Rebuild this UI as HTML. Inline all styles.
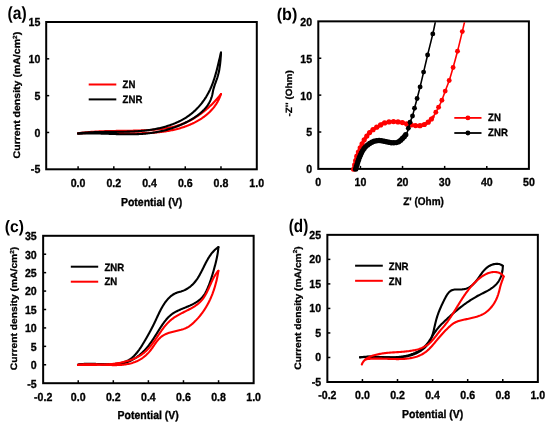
<!DOCTYPE html>
<html><head><meta charset="utf-8"><style>
html,body{margin:0;padding:0;background:#fff;}
svg{display:block;will-change:transform;}
text{font-family:"Liberation Sans",sans-serif;fill:#000;text-rendering:geometricPrecision;}
</style></head><body>
<svg width="550" height="427" viewBox="0 0 550 427">
<rect width="550" height="427" fill="#fff"/>
<rect x="46.2" y="22.0" width="210.60" height="147.30" fill="none" stroke="#000" stroke-width="2"/>
<line x1="78.10" y1="169.3" x2="78.10" y2="166.3" stroke="#000" stroke-width="1.5"/>
<line x1="113.82" y1="169.3" x2="113.82" y2="166.3" stroke="#000" stroke-width="1.5"/>
<line x1="149.54" y1="169.3" x2="149.54" y2="166.3" stroke="#000" stroke-width="1.5"/>
<line x1="185.26" y1="169.3" x2="185.26" y2="166.3" stroke="#000" stroke-width="1.5"/>
<line x1="220.98" y1="169.3" x2="220.98" y2="166.3" stroke="#000" stroke-width="1.5"/>
<line x1="46.2" y1="58.82" x2="49.2" y2="58.82" stroke="#000" stroke-width="1.5"/>
<line x1="46.2" y1="95.65" x2="49.2" y2="95.65" stroke="#000" stroke-width="1.5"/>
<line x1="46.2" y1="132.47" x2="49.2" y2="132.47" stroke="#000" stroke-width="1.5"/>
<text transform="translate(78.10,186.70) scale(0.9090909090909091,1)" font-size="11.66" font-weight="bold" text-anchor="middle"  stroke="#000" stroke-width="0.330">0.0</text>
<text transform="translate(113.82,186.70) scale(0.9090909090909091,1)" font-size="11.66" font-weight="bold" text-anchor="middle"  stroke="#000" stroke-width="0.330">0.2</text>
<text transform="translate(149.54,186.70) scale(0.9090909090909091,1)" font-size="11.66" font-weight="bold" text-anchor="middle"  stroke="#000" stroke-width="0.330">0.4</text>
<text transform="translate(185.26,186.70) scale(0.9090909090909091,1)" font-size="11.66" font-weight="bold" text-anchor="middle"  stroke="#000" stroke-width="0.330">0.6</text>
<text transform="translate(220.98,186.70) scale(0.9090909090909091,1)" font-size="11.66" font-weight="bold" text-anchor="middle"  stroke="#000" stroke-width="0.330">0.8</text>
<text transform="translate(256.70,186.70) scale(0.9090909090909091,1)" font-size="11.66" font-weight="bold" text-anchor="middle"  stroke="#000" stroke-width="0.330">1.0</text>
<text transform="translate(40.30,26.10) scale(0.9090909090909091,1)" font-size="11.66" font-weight="bold" text-anchor="end"  stroke="#000" stroke-width="0.330">15</text>
<text transform="translate(40.30,62.92) scale(0.9090909090909091,1)" font-size="11.66" font-weight="bold" text-anchor="end"  stroke="#000" stroke-width="0.330">10</text>
<text transform="translate(40.30,99.75) scale(0.9090909090909091,1)" font-size="11.66" font-weight="bold" text-anchor="end"  stroke="#000" stroke-width="0.330">5</text>
<text transform="translate(40.30,136.57) scale(0.9090909090909091,1)" font-size="11.66" font-weight="bold" text-anchor="end"  stroke="#000" stroke-width="0.330">0</text>
<text transform="translate(40.30,173.40) scale(0.9090909090909091,1)" font-size="11.66" font-weight="bold" text-anchor="end"  stroke="#000" stroke-width="0.330">-5</text>
<text transform="translate(151.50,205.50) scale(0.9090909090909091,1)" font-size="11.55" font-weight="bold" text-anchor="middle"  stroke="#000" stroke-width="0.330">Potential (V)</text>
<text transform="translate(17.10,18.60) scale(0.8932038834951457,1)" font-size="17.51" font-weight="bold" text-anchor="middle" >(a)</text>
<text transform="translate(20.1,95.1) rotate(-90) scale(1.1,1)" font-size="9.59" font-weight="bold" text-anchor="middle" stroke="#000" stroke-width="0.273">Current density (mA/cm<tspan font-size="5.95" dy="-3.6">2</tspan><tspan dy="3.6">)</tspan></text>
<path d="M78.00,133.30 L79.00,133.16 L80.01,133.03 L81.01,132.90 L82.02,132.78 L83.02,132.66 L84.03,132.55 L85.04,132.44 L86.04,132.34 L87.05,132.24 L88.05,132.15 L89.06,132.06 L90.07,131.98 L91.07,131.90 L92.08,131.83 L93.09,131.75 L94.10,131.69 L95.10,131.62 L96.11,131.56 L97.12,131.51 L98.13,131.46 L99.14,131.41 L100.14,131.36 L101.15,131.32 L102.16,131.27 L103.17,131.24 L104.18,131.20 L105.19,131.17 L106.20,131.14 L107.21,131.11 L108.22,131.08 L109.23,131.05 L110.24,131.03 L111.25,131.01 L112.26,130.99 L113.27,130.97 L114.28,130.95 L115.29,130.93 L116.30,130.92 L117.31,130.90 L118.33,130.89 L119.34,130.87 L120.35,130.86 L121.36,130.85 L122.37,130.83 L123.38,130.82 L124.40,130.81 L125.41,130.79 L126.42,130.78 L127.43,130.76 L128.45,130.75 L129.46,130.73 L130.47,130.71 L131.49,130.70 L132.50,130.68 L133.51,130.66 L134.52,130.63 L135.54,130.61 L136.55,130.58 L137.57,130.56 L138.58,130.53 L139.59,130.49 L140.61,130.46 L141.62,130.42 L142.63,130.38 L143.65,130.34 L144.66,130.30 L145.68,130.25 L146.69,130.20 L147.71,130.14 L148.72,130.08 L149.74,130.02 L150.75,129.96 L151.77,129.89 L152.78,129.82 L153.79,129.74 L154.81,129.66 L155.82,129.57 L156.83,129.47 L157.84,129.37 L158.85,129.27 L159.86,129.16 L160.87,129.04 L161.87,128.91 L162.88,128.77 L163.88,128.63 L164.88,128.48 L165.88,128.32 L166.87,128.15 L167.86,127.98 L168.85,127.79 L169.84,127.59 L170.82,127.38 L171.80,127.16 L172.78,126.93 L173.75,126.69 L174.72,126.44 L175.68,126.18 L176.64,125.90 L177.60,125.61 L178.55,125.31 L179.50,124.99 L180.44,124.66 L181.38,124.32 L182.32,123.96 L183.25,123.60 L184.17,123.22 L185.09,122.83 L186.00,122.42 L186.91,122.01 L187.82,121.58 L188.72,121.14 L189.61,120.69 L190.50,120.22 L191.38,119.75 L192.26,119.27 L193.13,118.77 L194.00,118.26 L194.86,117.74 L195.72,117.22 L196.56,116.68 L197.41,116.13 L198.25,115.57 L199.08,115.00 L199.91,114.42 L200.73,113.83 L201.54,113.24 L202.35,112.63 L203.15,112.01 L203.95,111.39 L204.74,110.75 L205.52,110.11 L206.30,109.46 L207.07,108.80 L207.83,108.13 L208.59,107.45 L209.34,106.76 L210.08,106.07 L210.82,105.37 L211.55,104.66 L212.27,103.94 L212.98,103.22 L213.69,102.49 L214.39,101.75 L215.09,101.00 L215.77,100.25 L216.45,99.49 L217.13,98.72 L217.79,97.95 L218.45,97.17 L219.10,96.39 L219.74,95.60 L220.37,94.80 L221.00,94.00" fill="none" stroke="#ff0000" stroke-width="2.1" stroke-linecap="round" stroke-linejoin="round"/>
<path d="M221.00,94.00 L220.66,94.99 L220.30,95.96 L219.92,96.92 L219.52,97.87 L219.10,98.80 L218.65,99.71 L218.19,100.61 L217.71,101.50 L217.22,102.37 L216.70,103.22 L216.17,104.07 L215.61,104.89 L215.05,105.71 L214.46,106.50 L213.86,107.29 L213.24,108.06 L212.60,108.82 L211.95,109.56 L211.29,110.29 L210.61,111.01 L209.92,111.71 L209.21,112.40 L208.49,113.07 L207.75,113.74 L207.00,114.38 L206.24,115.02 L205.47,115.64 L204.69,116.25 L203.89,116.85 L203.08,117.44 L202.26,118.01 L201.43,118.57 L200.59,119.11 L199.75,119.65 L198.89,120.17 L198.02,120.68 L197.14,121.18 L196.26,121.66 L195.36,122.13 L194.46,122.60 L193.56,123.04 L192.64,123.48 L191.72,123.91 L190.79,124.32 L189.86,124.73 L188.92,125.12 L187.97,125.50 L187.02,125.87 L186.07,126.23 L185.11,126.57 L184.15,126.91 L183.18,127.23 L182.21,127.55 L181.24,127.85 L180.26,128.14 L179.29,128.43 L178.31,128.70 L177.33,128.96 L176.35,129.21 L175.36,129.45 L174.38,129.68 L173.40,129.91 L172.41,130.12 L171.42,130.32 L170.43,130.52 L169.44,130.70 L168.45,130.88 L167.46,131.05 L166.47,131.21 L165.48,131.36 L164.48,131.51 L163.49,131.65 L162.49,131.78 L161.50,131.90 L160.50,132.02 L159.50,132.13 L158.50,132.23 L157.50,132.33 L156.50,132.42 L155.50,132.50 L154.50,132.58 L153.50,132.66 L152.50,132.73 L151.50,132.79 L150.50,132.85 L149.49,132.90 L148.49,132.95 L147.49,133.00 L146.49,133.04 L145.48,133.08 L144.48,133.11 L143.48,133.14 L142.47,133.17 L141.47,133.19 L140.46,133.21 L139.46,133.23 L138.45,133.24 L137.45,133.25 L136.44,133.26 L135.44,133.27 L134.43,133.27 L133.42,133.27 L132.42,133.27 L131.41,133.26 L130.41,133.26 L129.40,133.25 L128.39,133.24 L127.39,133.23 L126.38,133.21 L125.37,133.20 L124.36,133.18 L123.36,133.17 L122.35,133.15 L121.34,133.13 L120.33,133.11 L119.33,133.09 L118.32,133.07 L117.31,133.05 L116.30,133.03 L115.29,133.01 L114.29,132.99 L113.28,132.97 L112.27,132.95 L111.26,132.93 L110.25,132.92 L109.25,132.90 L108.24,132.88 L107.23,132.87 L106.22,132.85 L105.21,132.84 L104.20,132.83 L103.19,132.82 L102.19,132.81 L101.18,132.81 L100.17,132.80 L99.16,132.80 L98.15,132.80 L97.14,132.80 L96.14,132.81 L95.13,132.82 L94.12,132.83 L93.11,132.84 L92.10,132.86 L91.09,132.88 L90.09,132.90 L89.08,132.93 L88.07,132.96 L87.06,133.00 L86.06,133.04 L85.05,133.08 L84.04,133.12 L83.03,133.18 L82.03,133.23 L81.02,133.29 L80.01,133.36 L79.01,133.43 L78.00,133.50" fill="none" stroke="#ff0000" stroke-width="2.1" stroke-linecap="round" stroke-linejoin="round"/>
<path d="M78.00,133.30 L79.00,133.19 L80.00,133.08 L81.00,132.98 L82.00,132.88 L83.01,132.79 L84.01,132.71 L85.01,132.63 L86.02,132.56 L87.02,132.49 L88.03,132.43 L89.04,132.37 L90.04,132.32 L91.05,132.27 L92.06,132.22 L93.07,132.18 L94.07,132.14 L95.08,132.10 L96.09,132.07 L97.10,132.04 L98.11,132.02 L99.12,132.00 L100.13,131.98 L101.14,131.96 L102.15,131.94 L103.16,131.93 L104.18,131.91 L105.19,131.90 L106.20,131.89 L107.21,131.89 L108.22,131.88 L109.23,131.87 L110.25,131.87 L111.26,131.86 L112.27,131.85 L113.28,131.85 L114.29,131.84 L115.30,131.84 L116.32,131.83 L117.33,131.82 L118.34,131.81 L119.35,131.80 L120.36,131.79 L121.37,131.78 L122.38,131.76 L123.39,131.75 L124.40,131.73 L125.41,131.71 L126.42,131.68 L127.43,131.66 L128.43,131.63 L129.44,131.59 L130.45,131.56 L131.46,131.52 L132.46,131.47 L133.47,131.43 L134.47,131.38 L135.48,131.32 L136.48,131.26 L137.48,131.19 L138.49,131.12 L139.49,131.05 L140.49,130.97 L141.49,130.88 L142.49,130.79 L143.49,130.70 L144.49,130.59 L145.48,130.48 L146.48,130.37 L147.48,130.24 L148.47,130.11 L149.47,129.98 L150.46,129.83 L151.45,129.68 L152.44,129.53 L153.43,129.36 L154.42,129.18 L155.41,129.00 L156.39,128.81 L157.38,128.61 L158.36,128.40 L159.34,128.19 L160.32,127.96 L161.30,127.73 L162.28,127.48 L163.25,127.23 L164.22,126.96 L165.19,126.69 L166.16,126.40 L167.13,126.11 L168.09,125.81 L169.05,125.49 L170.01,125.16 L170.97,124.83 L171.92,124.48 L172.87,124.12 L173.82,123.75 L174.76,123.36 L175.70,122.97 L176.64,122.56 L177.57,122.14 L178.49,121.71 L179.41,121.27 L180.32,120.82 L181.22,120.35 L182.11,119.87 L183.00,119.37 L183.88,118.87 L184.75,118.35 L185.61,117.82 L186.46,117.27 L187.30,116.71 L188.13,116.14 L188.95,115.56 L189.76,114.96 L190.55,114.35 L191.34,113.73 L192.12,113.09 L192.88,112.45 L193.64,111.79 L194.38,111.12 L195.12,110.44 L195.84,109.75 L196.55,109.05 L197.25,108.33 L197.94,107.61 L198.62,106.87 L199.28,106.13 L199.94,105.37 L200.58,104.61 L201.22,103.83 L201.84,103.05 L202.45,102.25 L203.05,101.45 L203.63,100.64 L204.21,99.82 L204.77,98.99 L205.32,98.15 L205.86,97.31 L206.39,96.46 L206.90,95.59 L207.40,94.72 L207.89,93.85 L208.37,92.96 L208.84,92.07 L209.29,91.18 L209.74,90.27 L210.17,89.36 L210.58,88.44 L210.99,87.52 L211.38,86.59 L211.77,85.66 L212.14,84.72 L212.50,83.78 L212.85,82.83 L213.20,81.87 L213.53,80.92 L213.86,79.96 L214.17,78.99 L214.48,78.02 L214.78,77.05 L215.08,76.08 L215.37,75.10 L215.65,74.13 L215.92,73.15 L216.19,72.16 L216.46,71.18 L216.72,70.20 L216.97,69.21 L217.23,68.23 L217.47,67.24 L217.72,66.25 L217.96,65.27 L218.20,64.28 L218.43,63.30 L218.67,62.32 L218.90,61.33 L219.13,60.35 L219.37,59.37 L219.60,58.40 L219.83,57.42 L220.06,56.45 L220.29,55.48 L220.53,54.52 L220.76,53.56 L221.00,52.60" fill="none" stroke="#000000" stroke-width="2.1" stroke-linecap="round" stroke-linejoin="round"/>
<path d="M221.00,52.60 L220.95,53.59 L220.89,54.59 L220.83,55.59 L220.77,56.60 L220.70,57.60 L220.62,58.61 L220.54,59.62 L220.46,60.64 L220.36,61.65 L220.26,62.66 L220.15,63.67 L220.03,64.68 L219.90,65.69 L219.76,66.70 L219.61,67.70 L219.45,68.70 L219.28,69.70 L219.09,70.69 L218.89,71.68 L218.68,72.66 L218.45,73.63 L218.20,74.60 L217.95,75.56 L217.67,76.52 L217.38,77.47 L217.07,78.40 L216.75,79.34 L216.42,80.27 L216.09,81.20 L215.75,82.13 L215.41,83.06 L215.07,84.00 L214.74,84.94 L214.42,85.89 L214.11,86.85 L213.82,87.83 L213.55,88.82 L213.29,89.83 L213.06,90.85 L212.85,91.89 L212.65,92.93 L212.43,93.97 L212.21,95.00 L211.95,96.02 L211.67,97.01 L211.35,97.98 L211.00,98.94 L210.62,99.87 L210.22,100.78 L209.78,101.67 L209.32,102.55 L208.84,103.41 L208.32,104.24 L207.79,105.06 L207.23,105.87 L206.65,106.65 L206.04,107.42 L205.42,108.18 L204.77,108.91 L204.10,109.64 L203.42,110.34 L202.72,111.03 L202.00,111.71 L201.26,112.38 L200.51,113.02 L199.75,113.66 L198.97,114.28 L198.18,114.89 L197.38,115.49 L196.56,116.08 L195.74,116.65 L194.91,117.22 L194.06,117.77 L193.21,118.31 L192.36,118.84 L191.49,119.37 L190.63,119.88 L189.75,120.38 L188.87,120.87 L187.98,121.36 L187.09,121.83 L186.19,122.30 L185.29,122.75 L184.38,123.20 L183.47,123.63 L182.55,124.06 L181.63,124.47 L180.70,124.88 L179.77,125.28 L178.84,125.67 L177.90,126.05 L176.95,126.42 L176.01,126.78 L175.06,127.13 L174.10,127.48 L173.14,127.81 L172.18,128.13 L171.22,128.45 L170.25,128.76 L169.28,129.05 L168.30,129.34 L167.33,129.62 L166.35,129.90 L165.37,130.16 L164.38,130.41 L163.40,130.66 L162.41,130.89 L161.42,131.12 L160.43,131.34 L159.44,131.55 L158.45,131.75 L157.45,131.95 L156.45,132.13 L155.46,132.31 L154.46,132.48 L153.46,132.64 L152.46,132.79 L151.46,132.94 L150.46,133.07 L149.46,133.20 L148.46,133.32 L147.46,133.43 L146.46,133.53 L145.46,133.63 L144.45,133.72 L143.45,133.80 L142.45,133.88 L141.45,133.94 L140.45,134.01 L139.45,134.06 L138.44,134.11 L137.44,134.16 L136.44,134.19 L135.44,134.23 L134.44,134.26 L133.43,134.28 L132.43,134.30 L131.43,134.31 L130.42,134.32 L129.42,134.32 L128.42,134.32 L127.41,134.32 L126.41,134.31 L125.41,134.30 L124.40,134.29 L123.40,134.28 L122.39,134.26 L121.39,134.24 L120.38,134.21 L119.38,134.19 L118.37,134.16 L117.37,134.13 L116.36,134.10 L115.36,134.06 L114.35,134.03 L113.34,134.00 L112.34,133.96 L111.33,133.93 L110.33,133.89 L109.32,133.85 L108.31,133.82 L107.30,133.78 L106.30,133.75 L105.29,133.71 L104.28,133.68 L103.27,133.65 L102.26,133.62 L101.26,133.59 L100.25,133.56 L99.24,133.53 L98.23,133.51 L97.22,133.49 L96.21,133.47 L95.20,133.45 L94.19,133.44 L93.18,133.43 L92.17,133.42 L91.16,133.42 L90.15,133.42 L89.14,133.43 L88.13,133.43 L87.12,133.45 L86.10,133.47 L85.09,133.49 L84.08,133.52 L83.07,133.55 L82.05,133.59 L81.04,133.63 L80.03,133.68 L79.01,133.74 L78.00,133.80" fill="none" stroke="#000000" stroke-width="2.1" stroke-linecap="round" stroke-linejoin="round"/>
<line x1="88.7" y1="84.5" x2="116.3" y2="84.5" stroke="#ff0000" stroke-width="2"/>
<line x1="88.7" y1="99.4" x2="116.3" y2="99.4" stroke="#000000" stroke-width="2"/>
<text transform="translate(122.60,88.20) scale(0.9090909090909091,1)" font-size="10.56" font-weight="bold" text-anchor="start"  stroke="#000" stroke-width="0.330">ZN</text>
<text transform="translate(122.60,103.10) scale(0.9090909090909091,1)" font-size="10.56" font-weight="bold" text-anchor="start"  stroke="#000" stroke-width="0.330">ZNR</text>
<rect x="318.3" y="21.35" width="210.60" height="147.55" fill="none" stroke="#000" stroke-width="2"/>
<line x1="360.42" y1="168.9" x2="360.42" y2="165.9" stroke="#000" stroke-width="1.5"/>
<line x1="402.54" y1="168.9" x2="402.54" y2="165.9" stroke="#000" stroke-width="1.5"/>
<line x1="444.66" y1="168.9" x2="444.66" y2="165.9" stroke="#000" stroke-width="1.5"/>
<line x1="486.78" y1="168.9" x2="486.78" y2="165.9" stroke="#000" stroke-width="1.5"/>
<line x1="318.3" y1="58.24" x2="321.3" y2="58.24" stroke="#000" stroke-width="1.5"/>
<line x1="318.3" y1="95.12" x2="321.3" y2="95.12" stroke="#000" stroke-width="1.5"/>
<line x1="318.3" y1="132.01" x2="321.3" y2="132.01" stroke="#000" stroke-width="1.5"/>
<text transform="translate(318.30,185.80) scale(0.9090909090909091,1)" font-size="11.66" font-weight="600" text-anchor="middle"  stroke="#000" stroke-width="0.330">0</text>
<text transform="translate(360.42,185.80) scale(0.9090909090909091,1)" font-size="11.66" font-weight="600" text-anchor="middle"  stroke="#000" stroke-width="0.330">10</text>
<text transform="translate(402.54,185.80) scale(0.9090909090909091,1)" font-size="11.66" font-weight="600" text-anchor="middle"  stroke="#000" stroke-width="0.330">20</text>
<text transform="translate(444.66,185.80) scale(0.9090909090909091,1)" font-size="11.66" font-weight="600" text-anchor="middle"  stroke="#000" stroke-width="0.330">30</text>
<text transform="translate(486.78,185.80) scale(0.9090909090909091,1)" font-size="11.66" font-weight="600" text-anchor="middle"  stroke="#000" stroke-width="0.330">40</text>
<text transform="translate(528.90,185.80) scale(0.9090909090909091,1)" font-size="11.66" font-weight="600" text-anchor="middle"  stroke="#000" stroke-width="0.330">50</text>
<text transform="translate(312.10,25.75) scale(0.9090909090909091,1)" font-size="11.66" font-weight="600" text-anchor="end"  stroke="#000" stroke-width="0.330">20</text>
<text transform="translate(312.10,62.64) scale(0.9090909090909091,1)" font-size="11.66" font-weight="600" text-anchor="end"  stroke="#000" stroke-width="0.330">15</text>
<text transform="translate(312.10,99.53) scale(0.9090909090909091,1)" font-size="11.66" font-weight="600" text-anchor="end"  stroke="#000" stroke-width="0.330">10</text>
<text transform="translate(312.10,136.41) scale(0.9090909090909091,1)" font-size="11.66" font-weight="600" text-anchor="end"  stroke="#000" stroke-width="0.330">5</text>
<text transform="translate(312.10,173.30) scale(0.9090909090909091,1)" font-size="11.66" font-weight="600" text-anchor="end"  stroke="#000" stroke-width="0.330">0</text>
<text transform="translate(423.50,205.30) scale(0.9090909090909091,1)" font-size="11.0" font-weight="600" text-anchor="middle"  stroke="#000" stroke-width="0.330">Z' (Ohm)</text>
<text transform="translate(292,93.4) rotate(-90) scale(1.1,1)" font-size="9.09" font-weight="600" text-anchor="middle" stroke="#000" stroke-width="0.273">-Z'' (Ohm)</text>
<text transform="translate(287.00,19.80) scale(0.95,1)" font-size="17.0" font-weight="bold" text-anchor="middle" >(b)</text>
<clipPath id="cb"><rect x="319.3" y="22.35" width="208.6" height="149.5"/></clipPath>
<g clip-path="url(#cb)">
<path d="M353.60,169.30 C353.83,168.33 354.53,165.47 355.00,163.50 C355.47,161.53 355.93,159.17 356.40,157.50 C356.87,155.83 357.33,154.72 357.80,153.50 C358.27,152.28 358.67,151.42 359.20,150.20 C359.73,148.98 360.45,147.40 361.00,146.20 C361.55,145.00 361.98,144.03 362.50,143.00 C363.02,141.97 363.40,141.13 364.10,140.00 C364.80,138.87 365.80,137.42 366.70,136.20 C367.60,134.98 368.48,133.77 369.50,132.70 C370.52,131.63 371.78,130.62 372.80,129.80 C373.82,128.98 374.52,128.47 375.60,127.80 C376.68,127.13 378.10,126.52 379.30,125.80 C380.50,125.08 381.43,124.10 382.80,123.50 C384.17,122.90 385.90,122.52 387.50,122.20 C389.10,121.88 390.80,121.67 392.40,121.60 C394.00,121.53 395.60,121.67 397.10,121.80 C398.60,121.93 400.03,122.12 401.40,122.40 C402.77,122.68 403.75,123.10 405.30,123.50 C406.85,123.90 408.88,124.43 410.70,124.80 C412.52,125.17 414.65,125.55 416.20,125.70 C417.75,125.85 418.78,125.85 420.00,125.70 C421.22,125.55 422.42,125.20 423.50,124.80 C424.58,124.40 425.53,123.90 426.50,123.30 C427.47,122.70 428.18,122.27 429.30,121.20 C430.42,120.13 432.12,118.40 433.20,116.90 C434.28,115.40 434.90,113.82 435.80,112.20 C436.70,110.58 437.58,109.20 438.60,107.20 C439.62,105.20 440.80,102.88 441.90,100.20 C443.00,97.52 443.98,94.38 445.20,91.10 C446.42,87.82 447.88,84.43 449.20,80.50 C450.52,76.57 451.72,72.37 453.10,67.50 C454.48,62.63 455.97,57.28 457.50,51.30 C459.03,45.32 461.07,36.73 462.30,31.60 C463.53,26.47 464.47,22.35 464.90,20.50" fill="none" stroke="#ff0000" stroke-width="1.6" stroke-linecap="round" stroke-linejoin="round"/>
<path d="M353.60,169.30 C353.83,168.33 354.53,165.47 355.00,163.50 C355.47,161.53 355.93,159.17 356.40,157.50 C356.87,155.83 357.33,154.72 357.80,153.50 C358.27,152.28 358.67,151.42 359.20,150.20 C359.73,148.98 360.45,147.40 361.00,146.20 C361.55,145.00 361.98,144.03 362.50,143.00 C363.02,141.97 363.40,141.13 364.10,140.00 C364.80,138.87 365.80,137.42 366.70,136.20 C367.60,134.98 368.48,133.77 369.50,132.70 C370.52,131.63 371.78,130.62 372.80,129.80 C373.82,128.98 374.52,128.47 375.60,127.80 C376.68,127.13 378.10,126.52 379.30,125.80 C380.50,125.08 381.43,124.10 382.80,123.50 C384.17,122.90 385.90,122.52 387.50,122.20 C389.10,121.88 390.80,121.67 392.40,121.60 C394.00,121.53 395.60,121.67 397.10,121.80 C398.60,121.93 400.03,122.12 401.40,122.40 C402.77,122.68 403.75,123.10 405.30,123.50 C406.85,123.90 408.88,124.43 410.70,124.80 C412.52,125.17 414.65,125.55 416.20,125.70 C417.75,125.85 418.78,125.85 420.00,125.70 C421.22,125.55 422.42,125.20 423.50,124.80 C424.58,124.40 425.53,123.90 426.50,123.30 C427.47,122.70 428.18,122.27 429.30,121.20 C430.42,120.13 432.55,117.62 433.20,116.90" fill="none" stroke="#ff0000" stroke-width="3.2" stroke-linecap="round" stroke-linejoin="round"/>
<circle cx="353.6" cy="169.3" r="2.6" fill="#ff0000"/>
<circle cx="354.7" cy="164.9" r="2.6" fill="#ff0000"/>
<circle cx="355.7" cy="160.5" r="2.6" fill="#ff0000"/>
<circle cx="356.8" cy="156.2" r="2.6" fill="#ff0000"/>
<circle cx="358.4" cy="152.0" r="2.6" fill="#ff0000"/>
<circle cx="360.2" cy="147.9" r="2.6" fill="#ff0000"/>
<circle cx="362.1" cy="143.8" r="2.6" fill="#ff0000"/>
<circle cx="364.2" cy="139.8" r="2.6" fill="#ff0000"/>
<circle cx="366.8" cy="136.1" r="2.6" fill="#ff0000"/>
<circle cx="369.6" cy="132.6" r="2.6" fill="#ff0000"/>
<circle cx="373.0" cy="129.7" r="2.6" fill="#ff0000"/>
<circle cx="376.7" cy="127.2" r="2.6" fill="#ff0000"/>
<circle cx="380.6" cy="124.9" r="2.6" fill="#ff0000"/>
<circle cx="384.6" cy="122.9" r="2.6" fill="#ff0000"/>
<circle cx="389.0" cy="121.9" r="2.6" fill="#ff0000"/>
<circle cx="393.5" cy="121.6" r="2.6" fill="#ff0000"/>
<circle cx="398.0" cy="121.9" r="2.6" fill="#ff0000"/>
<circle cx="402.4" cy="122.6" r="2.6" fill="#ff0000"/>
<circle cx="406.7" cy="123.9" r="2.6" fill="#ff0000"/>
<circle cx="411.1" cy="124.9" r="2.6" fill="#ff0000"/>
<circle cx="415.5" cy="125.6" r="2.6" fill="#ff0000"/>
<circle cx="420.0" cy="125.7" r="2.6" fill="#ff0000"/>
<circle cx="424.3" cy="124.5" r="2.6" fill="#ff0000"/>
<circle cx="428.2" cy="122.2" r="2.6" fill="#ff0000"/>
<circle cx="431.4" cy="119.0" r="2.6" fill="#ff0000"/>
<circle cx="435.8" cy="112.2" r="2.45" fill="#ff0000"/>
<circle cx="438.6" cy="107.2" r="2.45" fill="#ff0000"/>
<circle cx="441.9" cy="100.2" r="2.45" fill="#ff0000"/>
<circle cx="445.2" cy="91.1" r="2.45" fill="#ff0000"/>
<circle cx="449.2" cy="80.5" r="2.45" fill="#ff0000"/>
<circle cx="453.1" cy="67.5" r="2.45" fill="#ff0000"/>
<circle cx="457.5" cy="51.3" r="2.45" fill="#ff0000"/>
<circle cx="462.3" cy="31.6" r="2.45" fill="#ff0000"/>
<path d="M355.60,169.20 C355.87,168.33 356.67,165.70 357.20,164.00 C357.73,162.30 358.22,160.58 358.80,159.00 C359.38,157.42 360.07,155.87 360.70,154.50 C361.33,153.13 361.95,151.92 362.60,150.80 C363.25,149.68 363.78,148.77 364.60,147.80 C365.42,146.83 366.47,145.82 367.50,145.00 C368.53,144.18 369.68,143.52 370.80,142.90 C371.92,142.28 373.08,141.68 374.20,141.30 C375.32,140.92 376.37,140.72 377.50,140.60 C378.63,140.48 379.83,140.48 381.00,140.60 C382.17,140.72 383.33,141.05 384.50,141.30 C385.67,141.55 386.78,141.87 388.00,142.10 C389.22,142.33 390.63,142.60 391.80,142.70 C392.97,142.80 394.03,142.78 395.00,142.70 C395.97,142.62 396.72,142.55 397.60,142.20 C398.48,141.85 399.45,141.27 400.30,140.60 C401.15,139.93 401.97,138.95 402.70,138.20 C403.43,137.45 404.08,136.83 404.70,136.10 C405.32,135.37 405.92,134.62 406.40,133.80 C406.88,132.98 407.27,132.10 407.60,131.20 C407.93,130.30 408.00,129.90 408.40,128.40 C408.80,126.90 409.32,124.27 410.00,122.20 C410.68,120.13 411.75,118.33 412.50,116.00 C413.25,113.67 413.73,111.12 414.50,108.20 C415.27,105.28 416.17,102.05 417.10,98.50 C418.03,94.95 419.02,91.30 420.10,86.90 C421.18,82.50 422.35,77.42 423.60,72.10 C424.85,66.78 426.07,61.37 427.60,55.00 C429.13,48.63 431.47,39.65 432.80,33.90 C434.13,28.15 435.13,22.73 435.60,20.50" fill="none" stroke="#000000" stroke-width="1.6" stroke-linecap="round" stroke-linejoin="round"/>
<circle cx="355.6" cy="169.2" r="2.7" fill="#000000"/>
<circle cx="356.3" cy="166.8" r="2.7" fill="#000000"/>
<circle cx="357.1" cy="164.4" r="2.7" fill="#000000"/>
<circle cx="357.8" cy="162.0" r="2.7" fill="#000000"/>
<circle cx="358.6" cy="159.7" r="2.7" fill="#000000"/>
<circle cx="359.5" cy="157.3" r="2.7" fill="#000000"/>
<circle cx="360.5" cy="155.0" r="2.7" fill="#000000"/>
<circle cx="361.5" cy="152.8" r="2.7" fill="#000000"/>
<circle cx="362.7" cy="150.6" r="2.7" fill="#000000"/>
<circle cx="364.1" cy="148.5" r="2.7" fill="#000000"/>
<circle cx="365.7" cy="146.6" r="2.7" fill="#000000"/>
<circle cx="367.6" cy="144.9" r="2.7" fill="#000000"/>
<circle cx="369.7" cy="143.5" r="2.7" fill="#000000"/>
<circle cx="371.9" cy="142.3" r="2.7" fill="#000000"/>
<circle cx="374.1" cy="141.3" r="2.7" fill="#000000"/>
<circle cx="376.6" cy="140.7" r="2.7" fill="#000000"/>
<circle cx="379.1" cy="140.5" r="2.7" fill="#000000"/>
<circle cx="381.5" cy="140.7" r="2.7" fill="#000000"/>
<circle cx="384.0" cy="141.2" r="2.7" fill="#000000"/>
<circle cx="386.4" cy="141.8" r="2.7" fill="#000000"/>
<circle cx="388.9" cy="142.3" r="2.7" fill="#000000"/>
<circle cx="391.3" cy="142.7" r="2.7" fill="#000000"/>
<circle cx="393.8" cy="142.8" r="2.7" fill="#000000"/>
<circle cx="396.3" cy="142.6" r="2.7" fill="#000000"/>
<circle cx="398.7" cy="141.7" r="2.7" fill="#000000"/>
<circle cx="400.7" cy="140.3" r="2.7" fill="#000000"/>
<circle cx="402.4" cy="138.5" r="2.7" fill="#000000"/>
<circle cx="404.2" cy="136.7" r="2.7" fill="#000000"/>
<circle cx="405.7" cy="134.7" r="2.7" fill="#000000"/>
<circle cx="408.3" cy="128.2" r="2.45" fill="#000000"/>
<circle cx="410.0" cy="122.2" r="2.45" fill="#000000"/>
<circle cx="412.5" cy="116.0" r="2.45" fill="#000000"/>
<circle cx="414.5" cy="108.2" r="2.45" fill="#000000"/>
<circle cx="417.1" cy="98.5" r="2.45" fill="#000000"/>
<circle cx="420.1" cy="86.9" r="2.45" fill="#000000"/>
<circle cx="423.6" cy="72.1" r="2.45" fill="#000000"/>
<circle cx="427.6" cy="55.0" r="2.45" fill="#000000"/>
<circle cx="432.8" cy="33.9" r="2.45" fill="#000000"/>
</g>
<line x1="454.3" y1="117.9" x2="481.5" y2="117.9" stroke="#ff0000" stroke-width="1.8"/>
<circle cx="467.9" cy="117.9" r="2.45" fill="#ff0000"/>
<line x1="454.3" y1="133" x2="481.5" y2="133" stroke="#000000" stroke-width="1.8"/>
<circle cx="467.9" cy="133" r="2.45" fill="#000000"/>
<text transform="translate(488.10,121.20) scale(0.9090909090909091,1)" font-size="10.56" font-weight="bold" text-anchor="start"  stroke="#000" stroke-width="0.330">ZN</text>
<text transform="translate(488.10,136.30) scale(0.9090909090909091,1)" font-size="10.56" font-weight="bold" text-anchor="start"  stroke="#000" stroke-width="0.330">ZNR</text>
<rect x="43.15" y="235.8" width="210.50" height="147.40" fill="none" stroke="#000" stroke-width="2"/>
<line x1="78.23" y1="383.2" x2="78.23" y2="380.2" stroke="#000" stroke-width="1.5"/>
<line x1="113.31" y1="383.2" x2="113.31" y2="380.2" stroke="#000" stroke-width="1.5"/>
<line x1="148.40" y1="383.2" x2="148.40" y2="380.2" stroke="#000" stroke-width="1.5"/>
<line x1="183.48" y1="383.2" x2="183.48" y2="380.2" stroke="#000" stroke-width="1.5"/>
<line x1="218.57" y1="383.2" x2="218.57" y2="380.2" stroke="#000" stroke-width="1.5"/>
<line x1="43.15" y1="254.22" x2="46.15" y2="254.22" stroke="#000" stroke-width="1.5"/>
<line x1="43.15" y1="272.65" x2="46.15" y2="272.65" stroke="#000" stroke-width="1.5"/>
<line x1="43.15" y1="291.07" x2="46.15" y2="291.07" stroke="#000" stroke-width="1.5"/>
<line x1="43.15" y1="309.50" x2="46.15" y2="309.50" stroke="#000" stroke-width="1.5"/>
<line x1="43.15" y1="327.92" x2="46.15" y2="327.92" stroke="#000" stroke-width="1.5"/>
<line x1="43.15" y1="346.35" x2="46.15" y2="346.35" stroke="#000" stroke-width="1.5"/>
<line x1="43.15" y1="364.77" x2="46.15" y2="364.77" stroke="#000" stroke-width="1.5"/>
<text transform="translate(43.15,400.70) scale(0.9090909090909091,1)" font-size="11.66" font-weight="bold" text-anchor="middle"  stroke="#000" stroke-width="0.330">-0.2</text>
<text transform="translate(78.23,400.70) scale(0.9090909090909091,1)" font-size="11.66" font-weight="bold" text-anchor="middle"  stroke="#000" stroke-width="0.330">0.0</text>
<text transform="translate(113.31,400.70) scale(0.9090909090909091,1)" font-size="11.66" font-weight="bold" text-anchor="middle"  stroke="#000" stroke-width="0.330">0.2</text>
<text transform="translate(148.40,400.70) scale(0.9090909090909091,1)" font-size="11.66" font-weight="bold" text-anchor="middle"  stroke="#000" stroke-width="0.330">0.4</text>
<text transform="translate(183.48,400.70) scale(0.9090909090909091,1)" font-size="11.66" font-weight="bold" text-anchor="middle"  stroke="#000" stroke-width="0.330">0.6</text>
<text transform="translate(218.57,400.70) scale(0.9090909090909091,1)" font-size="11.66" font-weight="bold" text-anchor="middle"  stroke="#000" stroke-width="0.330">0.8</text>
<text transform="translate(253.65,400.70) scale(0.9090909090909091,1)" font-size="11.66" font-weight="bold" text-anchor="middle"  stroke="#000" stroke-width="0.330">1.0</text>
<text transform="translate(36.70,240.20) scale(0.9090909090909091,1)" font-size="11.66" font-weight="bold" text-anchor="end"  stroke="#000" stroke-width="0.330">35</text>
<text transform="translate(36.70,258.62) scale(0.9090909090909091,1)" font-size="11.66" font-weight="bold" text-anchor="end"  stroke="#000" stroke-width="0.330">30</text>
<text transform="translate(36.70,277.05) scale(0.9090909090909091,1)" font-size="11.66" font-weight="bold" text-anchor="end"  stroke="#000" stroke-width="0.330">25</text>
<text transform="translate(36.70,295.47) scale(0.9090909090909091,1)" font-size="11.66" font-weight="bold" text-anchor="end"  stroke="#000" stroke-width="0.330">20</text>
<text transform="translate(36.70,313.90) scale(0.9090909090909091,1)" font-size="11.66" font-weight="bold" text-anchor="end"  stroke="#000" stroke-width="0.330">15</text>
<text transform="translate(36.70,332.32) scale(0.9090909090909091,1)" font-size="11.66" font-weight="bold" text-anchor="end"  stroke="#000" stroke-width="0.330">10</text>
<text transform="translate(36.70,350.75) scale(0.9090909090909091,1)" font-size="11.66" font-weight="bold" text-anchor="end"  stroke="#000" stroke-width="0.330">5</text>
<text transform="translate(36.70,369.17) scale(0.9090909090909091,1)" font-size="11.66" font-weight="bold" text-anchor="end"  stroke="#000" stroke-width="0.330">0</text>
<text transform="translate(36.70,387.60) scale(0.9090909090909091,1)" font-size="11.66" font-weight="bold" text-anchor="end"  stroke="#000" stroke-width="0.330">-5</text>
<text transform="translate(148.20,419.20) scale(0.9090909090909091,1)" font-size="11.55" font-weight="bold" text-anchor="middle"  stroke="#000" stroke-width="0.330">Potential (V)</text>
<text transform="translate(14.30,232.00) scale(0.95,1)" font-size="16.5" font-weight="bold" text-anchor="middle" >(c)</text>
<text transform="translate(17.1,308.5) rotate(-90) scale(1.1,1)" font-size="9.36" font-weight="bold" text-anchor="middle" stroke="#000" stroke-width="0.273">Current density (mA/cm<tspan font-size="5.81" dy="-3.6">2</tspan><tspan dy="3.6">)</tspan></text>
<path d="M78.00,364.70 L78.84,364.52 L79.71,364.36 L80.59,364.23 L81.48,364.11 L82.40,364.01 L83.33,363.93 L84.27,363.86 L85.23,363.81 L86.21,363.77 L87.19,363.75 L88.19,363.74 L89.20,363.74 L90.22,363.75 L91.24,363.76 L92.28,363.79 L93.33,363.82 L94.38,363.85 L95.44,363.89 L96.50,363.93 L97.57,363.97 L98.64,364.02 L99.72,364.06 L100.80,364.10 L101.88,364.14 L102.96,364.17 L104.05,364.20 L105.13,364.22 L106.21,364.23 L107.29,364.24 L108.36,364.24 L109.43,364.22 L110.50,364.20 L111.56,364.16 L112.62,364.10 L113.67,364.03 L114.71,363.95 L115.74,363.84 L116.77,363.72 L117.78,363.58 L118.79,363.42 L119.78,363.23 L120.76,363.03 L121.73,362.79 L122.68,362.54 L123.62,362.25 L124.54,361.94 L125.45,361.60 L126.34,361.23 L127.21,360.82 L128.07,360.39 L128.90,359.92 L129.72,359.42 L130.51,358.88 L131.29,358.31 L132.04,357.71 L132.78,357.08 L133.50,356.42 L134.21,355.74 L134.89,355.03 L135.57,354.30 L136.22,353.54 L136.87,352.77 L137.50,351.98 L138.12,351.17 L138.72,350.35 L139.32,349.52 L139.90,348.67 L140.48,347.81 L141.04,346.95 L141.60,346.08 L142.15,345.20 L142.69,344.32 L143.22,343.44 L143.75,342.56 L144.28,341.69 L144.79,340.81 L145.31,339.94 L145.82,339.06 L146.33,338.19 L146.83,337.32 L147.32,336.46 L147.82,335.59 L148.30,334.72 L148.79,333.85 L149.27,332.98 L149.75,332.11 L150.22,331.23 L150.69,330.36 L151.15,329.48 L151.61,328.60 L152.07,327.71 L152.52,326.82 L152.97,325.93 L153.42,325.04 L153.87,324.13 L154.31,323.23 L154.74,322.31 L155.18,321.40 L155.61,320.47 L156.04,319.55 L156.47,318.61 L156.90,317.68 L157.33,316.75 L157.77,315.81 L158.21,314.88 L158.65,313.95 L159.09,313.02 L159.55,312.09 L160.01,311.17 L160.47,310.26 L160.95,309.35 L161.43,308.45 L161.93,307.56 L162.43,306.67 L162.95,305.80 L163.48,304.94 L164.02,304.10 L164.58,303.26 L165.16,302.44 L165.75,301.64 L166.36,300.85 L166.99,300.08 L167.63,299.33 L168.30,298.60 L168.99,297.89 L169.70,297.20 L170.43,296.54 L171.18,295.92 L171.97,295.32 L172.77,294.76 L173.61,294.24 L174.47,293.77 L175.36,293.34 L176.28,292.95 L177.23,292.61 L178.19,292.30 L179.16,292.00 L180.14,291.71 L181.12,291.41 L182.08,291.09 L183.03,290.74 L183.96,290.36 L184.87,289.95 L185.77,289.50 L186.64,289.03 L187.49,288.52 L188.32,287.98 L189.14,287.42 L189.93,286.83 L190.70,286.21 L191.45,285.56 L192.18,284.90 L192.89,284.21 L193.57,283.49 L194.24,282.76 L194.88,282.00 L195.50,281.23 L196.11,280.44 L196.69,279.63 L197.26,278.81 L197.81,277.97 L198.34,277.12 L198.87,276.25 L199.38,275.38 L199.87,274.49 L200.36,273.60 L200.84,272.70 L201.32,271.79 L201.79,270.88 L202.25,269.96 L202.71,269.04 L203.17,268.11 L203.62,267.19 L204.08,266.27 L204.54,265.34 L205.00,264.42 L205.46,263.51 L205.93,262.59 L206.41,261.69 L206.89,260.79 L207.39,259.90 L207.89,259.02 L208.41,258.15 L208.94,257.29 L209.48,256.44 L210.04,255.61 L210.61,254.79 L211.21,253.99 L211.82,253.20 L212.45,252.44 L213.11,251.69 L213.78,250.96 L214.49,250.26 L215.21,249.58 L215.97,248.92 L216.75,248.29 L217.56,247.68 L218.40,247.10" fill="none" stroke="#000000" stroke-width="2.1" stroke-linecap="round" stroke-linejoin="round"/>
<path d="M218.40,247.10 L218.32,248.10 L218.23,249.09 L218.12,250.09 L218.00,251.08 L217.86,252.08 L217.72,253.07 L217.55,254.07 L217.38,255.06 L217.20,256.05 L217.01,257.04 L216.80,258.03 L216.59,259.02 L216.37,260.00 L216.14,260.99 L215.91,261.97 L215.67,262.95 L215.42,263.93 L215.17,264.90 L214.91,265.88 L214.65,266.85 L214.39,267.82 L214.13,268.78 L213.86,269.74 L213.59,270.70 L213.32,271.66 L213.04,272.61 L212.76,273.57 L212.48,274.52 L212.19,275.47 L211.90,276.42 L211.60,277.37 L211.29,278.32 L210.98,279.28 L210.66,280.23 L210.33,281.18 L210.00,282.14 L209.65,283.10 L209.29,284.06 L208.93,285.02 L208.55,285.98 L208.16,286.94 L207.76,287.90 L207.35,288.85 L206.92,289.80 L206.48,290.74 L206.01,291.66 L205.53,292.57 L205.03,293.45 L204.50,294.31 L203.93,295.14 L203.34,295.94 L202.72,296.71 L202.07,297.44 L201.40,298.15 L200.69,298.83 L199.96,299.48 L199.21,300.10 L198.44,300.70 L197.65,301.28 L196.83,301.83 L196.00,302.37 L195.15,302.88 L194.29,303.38 L193.41,303.86 L192.53,304.32 L191.62,304.77 L190.71,305.20 L189.80,305.63 L188.87,306.04 L187.94,306.45 L187.00,306.84 L186.06,307.23 L185.12,307.62 L184.18,308.00 L183.24,308.38 L182.31,308.76 L181.37,309.14 L180.45,309.53 L179.53,309.93 L178.61,310.34 L177.71,310.76 L176.82,311.20 L175.94,311.65 L175.07,312.12 L174.22,312.62 L173.39,313.14 L172.58,313.68 L171.78,314.26 L171.01,314.86 L170.25,315.50 L169.51,316.16 L168.79,316.84 L168.09,317.55 L167.40,318.28 L166.73,319.03 L166.07,319.79 L165.43,320.58 L164.80,321.38 L164.18,322.20 L163.57,323.02 L162.98,323.86 L162.39,324.71 L161.81,325.56 L161.24,326.42 L160.67,327.28 L160.11,328.15 L159.56,329.02 L159.01,329.89 L158.47,330.75 L157.93,331.62 L157.39,332.49 L156.85,333.35 L156.31,334.21 L155.77,335.07 L155.23,335.92 L154.69,336.77 L154.15,337.62 L153.60,338.47 L153.05,339.31 L152.50,340.14 L151.94,340.97 L151.37,341.80 L150.80,342.62 L150.22,343.43 L149.62,344.23 L149.02,345.03 L148.41,345.82 L147.79,346.61 L147.16,347.38 L146.51,348.15 L145.85,348.91 L145.18,349.65 L144.49,350.39 L143.80,351.12 L143.08,351.83 L142.36,352.53 L141.62,353.22 L140.87,353.89 L140.11,354.55 L139.34,355.19 L138.55,355.82 L137.75,356.43 L136.94,357.02 L136.12,357.59 L135.29,358.14 L134.45,358.68 L133.59,359.19 L132.73,359.67 L131.85,360.14 L130.97,360.58 L130.07,361.00 L129.16,361.39 L128.25,361.76 L127.32,362.10 L126.38,362.41 L125.43,362.70 L124.48,362.96 L123.51,363.20 L122.54,363.42 L121.56,363.61 L120.58,363.78 L119.58,363.93 L118.58,364.06 L117.58,364.18 L116.56,364.28 L115.55,364.36 L114.52,364.42 L113.50,364.47 L112.47,364.51 L111.43,364.54 L110.40,364.55 L109.36,364.55 L108.31,364.55 L107.27,364.53 L106.22,364.51 L105.18,364.48 L104.13,364.45 L103.08,364.41 L102.03,364.37 L100.99,364.32 L99.94,364.28 L98.89,364.23 L97.85,364.18 L96.81,364.14 L95.77,364.09 L94.74,364.05 L93.71,364.02 L92.68,363.98 L91.65,363.96 L90.63,363.94 L89.62,363.93 L88.61,363.93 L87.61,363.94 L86.61,363.96 L85.62,363.99 L84.64,364.04 L83.67,364.10 L82.70,364.17 L81.74,364.26 L80.79,364.37 L79.85,364.49 L78.92,364.64 L78.00,364.80" fill="none" stroke="#000000" stroke-width="2.1" stroke-linecap="round" stroke-linejoin="round"/>
<path d="M78.00,364.90 L78.90,364.89 L79.82,364.89 L80.74,364.89 L81.67,364.89 L82.62,364.89 L83.57,364.89 L84.52,364.89 L85.49,364.90 L86.46,364.90 L87.45,364.90 L88.43,364.90 L89.43,364.90 L90.43,364.90 L91.43,364.90 L92.45,364.89 L93.46,364.88 L94.48,364.87 L95.51,364.86 L96.54,364.84 L97.57,364.82 L98.60,364.80 L99.64,364.77 L100.68,364.73 L101.73,364.69 L102.77,364.65 L103.81,364.60 L104.86,364.54 L105.91,364.48 L106.95,364.41 L108.00,364.33 L109.05,364.24 L110.09,364.15 L111.13,364.05 L112.18,363.94 L113.22,363.82 L114.25,363.70 L115.29,363.56 L116.32,363.41 L117.35,363.26 L118.37,363.09 L119.39,362.91 L120.40,362.72 L121.41,362.52 L122.42,362.31 L123.42,362.09 L124.41,361.85 L125.39,361.60 L126.37,361.34 L127.34,361.06 L128.31,360.77 L129.26,360.47 L130.21,360.15 L131.15,359.81 L132.08,359.47 L133.00,359.10 L133.91,358.72 L134.81,358.33 L135.70,357.91 L136.58,357.49 L137.45,357.04 L138.30,356.58 L139.14,356.09 L139.98,355.59 L140.79,355.08 L141.60,354.54 L142.39,353.98 L143.17,353.41 L143.93,352.81 L144.68,352.20 L145.41,351.56 L146.13,350.91 L146.83,350.23 L147.52,349.53 L148.20,348.82 L148.86,348.09 L149.52,347.35 L150.16,346.59 L150.79,345.81 L151.41,345.03 L152.03,344.23 L152.63,343.42 L153.23,342.60 L153.83,341.77 L154.42,340.94 L155.01,340.10 L155.59,339.25 L156.17,338.40 L156.75,337.55 L157.33,336.70 L157.90,335.84 L158.48,334.98 L159.06,334.13 L159.65,333.28 L160.23,332.43 L160.82,331.58 L161.42,330.74 L162.02,329.91 L162.63,329.08 L163.24,328.27 L163.87,327.46 L164.50,326.66 L165.14,325.87 L165.80,325.10 L166.46,324.34 L167.14,323.60 L167.83,322.87 L168.54,322.15 L169.26,321.46 L169.99,320.78 L170.74,320.13 L171.51,319.50 L172.30,318.88 L173.10,318.29 L173.92,317.71 L174.76,317.16 L175.60,316.62 L176.46,316.09 L177.33,315.58 L178.20,315.08 L179.09,314.59 L179.98,314.10 L180.87,313.63 L181.78,313.16 L182.68,312.70 L183.59,312.24 L184.49,311.79 L185.40,311.33 L186.31,310.88 L187.21,310.42 L188.11,309.96 L189.00,309.50 L189.89,309.03 L190.77,308.55 L191.64,308.06 L192.50,307.57 L193.35,307.06 L194.19,306.54 L195.01,306.01 L195.82,305.46 L196.61,304.90 L197.39,304.32 L198.15,303.72 L198.89,303.09 L199.60,302.45 L200.30,301.78 L200.97,301.09 L201.62,300.37 L202.24,299.63 L202.84,298.86 L203.42,298.07 L203.98,297.25 L204.52,296.42 L205.04,295.56 L205.54,294.69 L206.03,293.80 L206.51,292.90 L206.97,291.99 L207.43,291.07 L207.87,290.14 L208.31,289.20 L208.74,288.26 L209.17,287.31 L209.59,286.36 L210.02,285.41 L210.44,284.47 L210.86,283.52 L211.29,282.58 L211.72,281.64 L212.16,280.72 L212.60,279.80 L213.06,278.89 L213.52,278.00 L214.00,277.12 L214.49,276.26 L214.99,275.41 L215.51,274.58 L216.05,273.78 L216.60,273.00 L217.18,272.24 L217.78,271.50 L218.40,270.80" fill="none" stroke="#ff0000" stroke-width="2.1" stroke-linecap="round" stroke-linejoin="round"/>
<path d="M218.40,270.80 L218.24,271.79 L218.08,272.78 L217.90,273.78 L217.72,274.77 L217.54,275.75 L217.34,276.74 L217.14,277.73 L216.93,278.71 L216.71,279.69 L216.48,280.67 L216.24,281.65 L216.00,282.62 L215.75,283.60 L215.49,284.56 L215.21,285.53 L214.94,286.50 L214.65,287.46 L214.35,288.42 L214.04,289.37 L213.73,290.32 L213.40,291.27 L213.07,292.21 L212.72,293.15 L212.37,294.09 L212.00,295.02 L211.63,295.95 L211.24,296.87 L210.85,297.79 L210.44,298.71 L210.03,299.62 L209.60,300.52 L209.16,301.42 L208.72,302.31 L208.26,303.20 L207.79,304.09 L207.31,304.96 L206.81,305.84 L206.31,306.70 L205.80,307.56 L205.27,308.41 L204.73,309.26 L204.18,310.10 L203.62,310.94 L203.04,311.76 L202.46,312.58 L201.86,313.40 L201.25,314.20 L200.62,315.00 L199.99,315.79 L199.34,316.58 L198.68,317.35 L198.01,318.12 L197.32,318.87 L196.63,319.62 L195.93,320.36 L195.22,321.08 L194.49,321.79 L193.76,322.50 L193.02,323.18 L192.27,323.85 L191.50,324.50 L190.72,325.13 L189.93,325.72 L189.12,326.28 L188.30,326.81 L187.45,327.30 L186.59,327.75 L185.71,328.16 L184.82,328.53 L183.91,328.88 L182.99,329.20 L182.05,329.49 L181.10,329.77 L180.14,330.02 L179.17,330.27 L178.20,330.50 L177.21,330.73 L176.23,330.96 L175.23,331.19 L174.24,331.42 L173.24,331.66 L172.24,331.91 L171.25,332.17 L170.26,332.45 L169.29,332.74 L168.32,333.06 L167.37,333.40 L166.44,333.77 L165.53,334.17 L164.64,334.60 L163.78,335.06 L162.94,335.56 L162.14,336.10 L161.37,336.68 L160.62,337.31 L159.91,337.96 L159.22,338.65 L158.56,339.38 L157.91,340.12 L157.28,340.89 L156.67,341.69 L156.07,342.49 L155.48,343.32 L154.89,344.15 L154.31,344.99 L153.73,345.84 L153.15,346.68 L152.56,347.53 L151.97,348.37 L151.36,349.20 L150.75,350.02 L150.12,350.82 L149.47,351.61 L148.80,352.38 L148.12,353.13 L147.41,353.85 L146.69,354.56 L145.95,355.24 L145.19,355.90 L144.42,356.53 L143.63,357.15 L142.83,357.74 L142.01,358.31 L141.18,358.85 L140.34,359.37 L139.48,359.86 L138.62,360.33 L137.74,360.78 L136.85,361.19 L135.95,361.58 L135.05,361.95 L134.13,362.29 L133.21,362.61 L132.28,362.91 L131.34,363.18 L130.39,363.43 L129.44,363.66 L128.48,363.87 L127.51,364.06 L126.54,364.23 L125.55,364.38 L124.57,364.52 L123.58,364.64 L122.58,364.74 L121.58,364.83 L120.57,364.91 L119.56,364.97 L118.54,365.02 L117.52,365.05 L116.50,365.08 L115.47,365.09 L114.45,365.10 L113.41,365.09 L112.38,365.08 L111.34,365.06 L110.31,365.04 L109.27,365.00 L108.23,364.96 L107.19,364.92 L106.15,364.87 L105.11,364.82 L104.06,364.77 L103.02,364.72 L101.98,364.66 L100.94,364.61 L99.91,364.55 L98.87,364.50 L97.84,364.45 L96.80,364.40 L95.77,364.36 L94.75,364.32 L93.72,364.28 L92.70,364.25 L91.68,364.23 L90.67,364.21 L89.66,364.20 L88.66,364.20 L87.66,364.21 L86.67,364.23 L85.68,364.27 L84.69,364.31 L83.72,364.36 L82.75,364.43 L81.78,364.52 L80.83,364.61 L79.88,364.73 L78.93,364.85 L78.00,365.00" fill="none" stroke="#ff0000" stroke-width="2.1" stroke-linecap="round" stroke-linejoin="round"/>
<line x1="70.8" y1="266.7" x2="98.2" y2="266.7" stroke="#000000" stroke-width="2"/>
<line x1="70.8" y1="281.7" x2="98.2" y2="281.7" stroke="#ff0000" stroke-width="2"/>
<text transform="translate(104.50,270.60) scale(0.9090909090909091,1)" font-size="10.56" font-weight="bold" text-anchor="start"  stroke="#000" stroke-width="0.330">ZNR</text>
<text transform="translate(104.50,285.30) scale(0.9090909090909091,1)" font-size="10.56" font-weight="bold" text-anchor="start"  stroke="#000" stroke-width="0.330">ZN</text>
<rect x="327.35" y="234.85" width="210.50" height="147.15" fill="none" stroke="#000" stroke-width="2"/>
<line x1="362.43" y1="382.0" x2="362.43" y2="379.0" stroke="#000" stroke-width="1.5"/>
<line x1="397.51" y1="382.0" x2="397.51" y2="379.0" stroke="#000" stroke-width="1.5"/>
<line x1="432.60" y1="382.0" x2="432.60" y2="379.0" stroke="#000" stroke-width="1.5"/>
<line x1="467.68" y1="382.0" x2="467.68" y2="379.0" stroke="#000" stroke-width="1.5"/>
<line x1="502.77" y1="382.0" x2="502.77" y2="379.0" stroke="#000" stroke-width="1.5"/>
<line x1="327.35" y1="259.38" x2="330.35" y2="259.38" stroke="#000" stroke-width="1.5"/>
<line x1="327.35" y1="283.90" x2="330.35" y2="283.90" stroke="#000" stroke-width="1.5"/>
<line x1="327.35" y1="308.43" x2="330.35" y2="308.43" stroke="#000" stroke-width="1.5"/>
<line x1="327.35" y1="332.95" x2="330.35" y2="332.95" stroke="#000" stroke-width="1.5"/>
<line x1="327.35" y1="357.48" x2="330.35" y2="357.48" stroke="#000" stroke-width="1.5"/>
<text transform="translate(327.35,399.20) scale(0.9090909090909091,1)" font-size="11.66" font-weight="bold" text-anchor="middle"  stroke="#000" stroke-width="0.330">-0.2</text>
<text transform="translate(362.43,399.20) scale(0.9090909090909091,1)" font-size="11.66" font-weight="bold" text-anchor="middle"  stroke="#000" stroke-width="0.330">0.0</text>
<text transform="translate(397.51,399.20) scale(0.9090909090909091,1)" font-size="11.66" font-weight="bold" text-anchor="middle"  stroke="#000" stroke-width="0.330">0.2</text>
<text transform="translate(432.60,399.20) scale(0.9090909090909091,1)" font-size="11.66" font-weight="bold" text-anchor="middle"  stroke="#000" stroke-width="0.330">0.4</text>
<text transform="translate(467.68,399.20) scale(0.9090909090909091,1)" font-size="11.66" font-weight="bold" text-anchor="middle"  stroke="#000" stroke-width="0.330">0.6</text>
<text transform="translate(502.77,399.20) scale(0.9090909090909091,1)" font-size="11.66" font-weight="bold" text-anchor="middle"  stroke="#000" stroke-width="0.330">0.8</text>
<text transform="translate(537.85,399.20) scale(0.9090909090909091,1)" font-size="11.66" font-weight="bold" text-anchor="middle"  stroke="#000" stroke-width="0.330">1.0</text>
<text transform="translate(321.10,238.75) scale(0.9090909090909091,1)" font-size="11.66" font-weight="bold" text-anchor="end"  stroke="#000" stroke-width="0.330">25</text>
<text transform="translate(321.10,263.27) scale(0.9090909090909091,1)" font-size="11.66" font-weight="bold" text-anchor="end"  stroke="#000" stroke-width="0.330">20</text>
<text transform="translate(321.10,287.80) scale(0.9090909090909091,1)" font-size="11.66" font-weight="bold" text-anchor="end"  stroke="#000" stroke-width="0.330">15</text>
<text transform="translate(321.10,312.32) scale(0.9090909090909091,1)" font-size="11.66" font-weight="bold" text-anchor="end"  stroke="#000" stroke-width="0.330">10</text>
<text transform="translate(321.10,336.85) scale(0.9090909090909091,1)" font-size="11.66" font-weight="bold" text-anchor="end"  stroke="#000" stroke-width="0.330">5</text>
<text transform="translate(321.10,361.38) scale(0.9090909090909091,1)" font-size="11.66" font-weight="bold" text-anchor="end"  stroke="#000" stroke-width="0.330">0</text>
<text transform="translate(321.10,385.90) scale(0.9090909090909091,1)" font-size="11.66" font-weight="bold" text-anchor="end"  stroke="#000" stroke-width="0.330">-5</text>
<text transform="translate(432.70,418.10) scale(0.9090909090909091,1)" font-size="11.55" font-weight="bold" text-anchor="middle"  stroke="#000" stroke-width="0.330">Potential (V)</text>
<text transform="translate(298.50,232.00) scale(0.8411214953271028,1)" font-size="18.19" font-weight="bold" text-anchor="middle" >(d)</text>
<text transform="translate(301,308) rotate(-90) scale(1.1,1)" font-size="9.36" font-weight="bold" text-anchor="middle" stroke="#000" stroke-width="0.273">Current density (mA/cm<tspan font-size="5.81" dy="-3.6">2</tspan><tspan dy="3.6">)</tspan></text>
<path d="M360.00,357.30 L360.96,357.17 L361.92,357.05 L362.89,356.95 L363.87,356.87 L364.85,356.80 L365.83,356.74 L366.82,356.70 L367.81,356.67 L368.81,356.65 L369.81,356.64 L370.82,356.64 L371.83,356.66 L372.84,356.67 L373.85,356.70 L374.87,356.73 L375.89,356.77 L376.91,356.81 L377.93,356.86 L378.96,356.91 L379.99,356.96 L381.01,357.02 L382.04,357.07 L383.07,357.13 L384.10,357.18 L385.13,357.23 L386.16,357.28 L387.20,357.32 L388.23,357.37 L389.26,357.40 L390.29,357.43 L391.31,357.45 L392.34,357.47 L393.37,357.48 L394.39,357.48 L395.41,357.46 L396.43,357.44 L397.45,357.40 L398.46,357.36 L399.47,357.30 L400.48,357.22 L401.48,357.13 L402.49,357.02 L403.48,356.90 L404.48,356.76 L405.46,356.60 L406.45,356.42 L407.43,356.23 L408.40,356.01 L409.37,355.77 L410.34,355.50 L411.29,355.22 L412.24,354.91 L413.19,354.58 L414.12,354.22 L415.04,353.84 L415.95,353.44 L416.85,353.02 L417.74,352.57 L418.61,352.10 L419.47,351.60 L420.31,351.08 L421.13,350.54 L421.93,349.98 L422.71,349.39 L423.48,348.78 L424.22,348.15 L424.94,347.49 L425.63,346.81 L426.30,346.10 L426.94,345.37 L427.56,344.62 L428.14,343.84 L428.70,343.04 L429.23,342.22 L429.72,341.38 L430.19,340.51 L430.63,339.62 L431.04,338.70 L431.42,337.78 L431.78,336.83 L432.12,335.87 L432.44,334.90 L432.75,333.91 L433.03,332.92 L433.31,331.91 L433.57,330.90 L433.82,329.89 L434.07,328.87 L434.31,327.84 L434.54,326.82 L434.78,325.80 L435.01,324.78 L435.24,323.76 L435.48,322.75 L435.73,321.75 L435.98,320.76 L436.24,319.77 L436.51,318.80 L436.80,317.84 L437.09,316.89 L437.39,315.94 L437.71,315.01 L438.03,314.08 L438.36,313.15 L438.71,312.24 L439.06,311.32 L439.42,310.42 L439.79,309.51 L440.17,308.61 L440.56,307.71 L440.95,306.81 L441.36,305.91 L441.77,305.01 L442.20,304.11 L442.63,303.20 L443.07,302.30 L443.52,301.38 L443.97,300.47 L444.43,299.55 L444.90,298.62 L445.38,297.70 L445.88,296.77 L446.39,295.87 L446.93,294.98 L447.49,294.14 L448.09,293.33 L448.72,292.58 L449.40,291.88 L450.12,291.26 L450.90,290.72 L451.73,290.27 L452.63,289.92 L453.59,289.67 L454.61,289.54 L455.68,289.48 L456.78,289.48 L457.87,289.50 L458.95,289.51 L460.01,289.50 L461.03,289.46 L462.04,289.39 L463.02,289.29 L463.99,289.14 L464.93,288.94 L465.86,288.70 L466.78,288.39 L467.68,288.03 L468.58,287.60 L469.45,287.11 L470.32,286.57 L471.15,285.98 L471.97,285.35 L472.75,284.69 L473.49,283.99 L474.21,283.27 L474.90,282.52 L475.57,281.75 L476.21,280.96 L476.84,280.15 L477.45,279.34 L478.05,278.51 L478.63,277.68 L479.22,276.85 L479.80,276.01 L480.38,275.18 L480.96,274.35 L481.55,273.53 L482.15,272.72 L482.76,271.93 L483.39,271.16 L484.04,270.40 L484.70,269.67 L485.39,268.97 L486.11,268.29 L486.86,267.65 L487.65,267.05 L488.47,266.48 L489.33,265.95 L490.23,265.47 L491.16,265.04 L492.11,264.67 L493.09,264.36 L494.08,264.12 L495.08,263.94 L496.09,263.85 L497.09,263.84 L498.09,263.92 L499.08,264.09 L500.05,264.35 L500.99,264.73 L501.91,265.21 L502.80,265.80" fill="none" stroke="#000000" stroke-width="2.1" stroke-linecap="round" stroke-linejoin="round"/>
<path d="M502.80,265.80 L502.80,266.78 L502.76,267.78 L502.68,268.78 L502.57,269.79 L502.43,270.80 L502.25,271.81 L502.04,272.82 L501.79,273.82 L501.51,274.81 L501.19,275.80 L500.84,276.77 L500.46,277.72 L500.04,278.65 L499.58,279.56 L499.10,280.45 L498.57,281.30 L498.02,282.13 L497.43,282.92 L496.81,283.68 L496.15,284.40 L495.47,285.10 L494.76,285.77 L494.02,286.41 L493.26,287.03 L492.48,287.62 L491.67,288.19 L490.85,288.75 L490.01,289.29 L489.16,289.81 L488.29,290.32 L487.41,290.81 L486.52,291.30 L485.62,291.78 L484.72,292.25 L483.81,292.72 L482.89,293.19 L481.98,293.65 L481.06,294.12 L480.15,294.59 L479.25,295.07 L478.34,295.55 L477.45,296.04 L476.56,296.53 L475.67,297.04 L474.80,297.55 L473.92,298.07 L473.06,298.59 L472.20,299.12 L471.34,299.66 L470.49,300.20 L469.65,300.75 L468.81,301.31 L467.97,301.87 L467.14,302.44 L466.32,303.01 L465.50,303.59 L464.68,304.18 L463.87,304.77 L463.07,305.37 L462.26,305.97 L461.47,306.58 L460.67,307.19 L459.88,307.81 L459.10,308.43 L458.32,309.06 L457.54,309.69 L456.76,310.33 L455.99,310.97 L455.22,311.61 L454.46,312.26 L453.70,312.91 L452.94,313.57 L452.19,314.23 L451.43,314.90 L450.68,315.57 L449.94,316.24 L449.19,316.92 L448.45,317.59 L447.71,318.28 L446.98,318.96 L446.24,319.65 L445.51,320.34 L444.78,321.04 L444.05,321.73 L443.32,322.44 L442.60,323.14 L441.89,323.86 L441.18,324.58 L440.49,325.31 L439.80,326.05 L439.12,326.80 L438.45,327.56 L437.80,328.34 L437.16,329.13 L436.53,329.93 L435.92,330.75 L435.33,331.58 L434.75,332.43 L434.18,333.28 L433.61,334.14 L433.06,335.01 L432.50,335.88 L431.95,336.75 L431.40,337.62 L430.85,338.48 L430.29,339.34 L429.72,340.19 L429.15,341.02 L428.57,341.85 L427.97,342.65 L427.36,343.44 L426.73,344.21 L426.08,344.96 L425.40,345.68 L424.71,346.38 L424.00,347.05 L423.27,347.70 L422.51,348.32 L421.74,348.92 L420.95,349.49 L420.14,350.04 L419.32,350.57 L418.48,351.08 L417.63,351.56 L416.76,352.02 L415.87,352.46 L414.98,352.88 L414.07,353.27 L413.15,353.65 L412.22,354.00 L411.28,354.34 L410.33,354.65 L409.37,354.95 L408.40,355.23 L407.43,355.48 L406.44,355.72 L405.46,355.94 L404.46,356.15 L403.47,356.33 L402.47,356.50 L401.46,356.65 L400.45,356.79 L399.44,356.90 L398.43,357.01 L397.42,357.09 L396.41,357.17 L395.40,357.23 L394.38,357.28 L393.37,357.31 L392.35,357.34 L391.33,357.36 L390.31,357.36 L389.29,357.36 L388.28,357.35 L387.26,357.34 L386.24,357.32 L385.22,357.29 L384.20,357.26 L383.18,357.23 L382.16,357.19 L381.14,357.15 L380.12,357.11 L379.10,357.07 L378.09,357.04 L377.07,357.00 L376.05,356.96 L375.04,356.93 L374.02,356.91 L373.01,356.88 L372.00,356.87 L370.99,356.86 L369.98,356.85 L368.97,356.86 L367.97,356.87 L366.97,356.90 L365.96,356.93 L364.96,356.97 L363.97,357.03 L362.97,357.10 L361.98,357.19 L360.99,357.29 L360.00,357.40" fill="none" stroke="#000000" stroke-width="2.1" stroke-linecap="round" stroke-linejoin="round"/>
<path d="M361.80,364.50 L362.22,363.51 L362.70,362.59 L363.25,361.74 L363.87,360.95 L364.53,360.22 L365.25,359.56 L366.02,358.95 L366.83,358.38 L367.67,357.87 L368.55,357.39 L369.45,356.96 L370.37,356.56 L371.31,356.20 L372.27,355.86 L373.23,355.54 L374.19,355.25 L375.16,354.98 L376.13,354.72 L377.10,354.48 L378.08,354.26 L379.06,354.06 L380.04,353.87 L381.02,353.70 L382.01,353.54 L383.00,353.39 L383.99,353.25 L384.98,353.13 L385.98,353.01 L386.98,352.91 L387.98,352.81 L388.98,352.72 L389.99,352.63 L391.00,352.55 L392.01,352.48 L393.02,352.41 L394.04,352.34 L395.05,352.27 L396.07,352.21 L397.09,352.15 L398.12,352.08 L399.14,352.01 L400.17,351.94 L401.20,351.87 L402.23,351.79 L403.26,351.71 L404.29,351.62 L405.32,351.52 L406.35,351.42 L407.37,351.31 L408.40,351.18 L409.41,351.05 L410.43,350.90 L411.44,350.74 L412.44,350.57 L413.43,350.38 L414.42,350.17 L415.40,349.95 L416.37,349.71 L417.33,349.46 L418.28,349.18 L419.22,348.88 L420.15,348.56 L421.07,348.22 L421.97,347.85 L422.86,347.46 L423.73,347.04 L424.59,346.60 L425.43,346.13 L426.25,345.64 L427.06,345.11 L427.85,344.55 L428.62,343.96 L429.37,343.34 L430.10,342.69 L430.81,342.01 L431.51,341.30 L432.19,340.57 L432.86,339.81 L433.52,339.04 L434.17,338.26 L434.81,337.46 L435.45,336.65 L436.08,335.84 L436.71,335.02 L437.35,334.20 L437.98,333.38 L438.62,332.57 L439.26,331.76 L439.92,330.97 L440.58,330.19 L441.24,329.41 L441.91,328.64 L442.58,327.87 L443.24,327.10 L443.89,326.33 L444.53,325.55 L445.16,324.76 L445.78,323.97 L446.39,323.17 L446.99,322.36 L447.59,321.56 L448.17,320.74 L448.75,319.92 L449.32,319.10 L449.89,318.27 L450.45,317.44 L451.00,316.60 L451.55,315.77 L452.09,314.92 L452.63,314.08 L453.17,313.23 L453.70,312.39 L454.23,311.53 L454.76,310.68 L455.29,309.83 L455.81,308.98 L456.33,308.12 L456.85,307.27 L457.38,306.41 L457.90,305.56 L458.42,304.70 L458.95,303.85 L459.47,302.99 L460.00,302.14 L460.53,301.29 L461.07,300.44 L461.60,299.60 L462.15,298.75 L462.69,297.91 L463.24,297.07 L463.80,296.24 L464.36,295.41 L464.93,294.58 L465.51,293.76 L466.09,292.94 L466.68,292.12 L467.28,291.31 L467.88,290.51 L468.50,289.71 L469.13,288.92 L469.76,288.13 L470.41,287.35 L471.06,286.58 L471.73,285.81 L472.41,285.05 L473.11,284.30 L473.81,283.55 L474.53,282.82 L475.26,282.09 L476.01,281.37 L476.77,280.66 L477.54,279.96 L478.33,279.28 L479.13,278.61 L479.94,277.96 L480.77,277.33 L481.60,276.73 L482.45,276.15 L483.31,275.59 L484.18,275.07 L485.06,274.58 L485.95,274.13 L486.85,273.71 L487.75,273.34 L488.67,273.00 L489.59,272.71 L490.52,272.47 L491.46,272.28 L492.40,272.14 L493.35,272.05 L494.30,272.02 L495.26,272.04 L496.22,272.13 L497.17,272.29 L498.12,272.51 L499.04,272.82 L499.94,273.20 L500.79,273.67 L501.61,274.23 L502.37,274.88 L503.07,275.64 L503.70,276.50" fill="none" stroke="#ff0000" stroke-width="2.1" stroke-linecap="round" stroke-linejoin="round"/>
<path d="M503.70,276.50 L503.36,277.46 L503.01,278.41 L502.67,279.35 L502.33,280.28 L502.00,281.21 L501.67,282.14 L501.35,283.07 L501.05,284.00 L500.76,284.94 L500.49,285.88 L500.23,286.83 L499.99,287.78 L499.75,288.74 L499.51,289.70 L499.27,290.66 L499.02,291.63 L498.76,292.59 L498.48,293.55 L498.18,294.52 L497.86,295.47 L497.51,296.43 L497.13,297.37 L496.73,298.31 L496.31,299.24 L495.87,300.16 L495.40,301.08 L494.90,301.97 L494.38,302.86 L493.84,303.73 L493.28,304.58 L492.69,305.41 L492.08,306.23 L491.45,307.03 L490.80,307.80 L490.12,308.55 L489.42,309.28 L488.70,309.98 L487.96,310.66 L487.20,311.30 L486.42,311.92 L485.61,312.51 L484.79,313.06 L483.94,313.58 L483.07,314.07 L482.19,314.53 L481.29,314.96 L480.38,315.36 L479.44,315.74 L478.50,316.10 L477.54,316.43 L476.58,316.75 L475.60,317.04 L474.62,317.32 L473.62,317.58 L472.63,317.83 L471.62,318.07 L470.62,318.30 L469.61,318.52 L468.60,318.74 L467.58,318.95 L466.58,319.15 L465.57,319.36 L464.57,319.57 L463.57,319.78 L462.58,319.99 L461.59,320.22 L460.62,320.46 L459.66,320.72 L458.71,321.01 L457.77,321.33 L456.85,321.67 L455.95,322.06 L455.07,322.49 L454.21,322.96 L453.37,323.48 L452.55,324.04 L451.75,324.65 L450.97,325.29 L450.21,325.95 L449.45,326.62 L448.71,327.31 L447.98,328.00 L447.26,328.69 L446.55,329.39 L445.85,330.09 L445.15,330.80 L444.46,331.51 L443.78,332.23 L443.10,332.96 L442.43,333.69 L441.76,334.43 L441.09,335.18 L440.43,335.94 L439.76,336.70 L439.10,337.47 L438.45,338.25 L437.79,339.04 L437.13,339.84 L436.46,340.64 L435.80,341.45 L435.13,342.25 L434.46,343.06 L433.79,343.86 L433.11,344.66 L432.42,345.45 L431.73,346.23 L431.02,346.99 L430.31,347.75 L429.60,348.48 L428.87,349.20 L428.13,349.89 L427.38,350.57 L426.61,351.21 L425.84,351.83 L425.05,352.42 L424.24,352.98 L423.42,353.51 L422.59,354.01 L421.75,354.47 L420.89,354.91 L420.02,355.33 L419.13,355.71 L418.24,356.07 L417.33,356.41 L416.42,356.72 L415.49,357.00 L414.56,357.27 L413.61,357.51 L412.66,357.73 L411.69,357.93 L410.72,358.11 L409.74,358.28 L408.75,358.42 L407.76,358.55 L406.76,358.66 L405.75,358.76 L404.74,358.84 L403.72,358.91 L402.69,358.97 L401.66,359.01 L400.63,359.04 L399.60,359.07 L398.56,359.08 L397.51,359.08 L396.47,359.08 L395.42,359.07 L394.37,359.05 L393.32,359.03 L392.27,359.00 L391.22,358.97 L390.16,358.94 L389.11,358.90 L388.06,358.86 L387.01,358.82 L385.96,358.79 L384.91,358.75 L383.87,358.71 L382.83,358.68 L381.79,358.65 L380.75,358.63 L379.72,358.61 L378.69,358.60 L377.67,358.59 L376.65,358.59 L375.64,358.60 L374.64,358.62 L373.64,358.65 L372.65,358.69 L371.66,358.74 L370.68,358.81 L369.71,358.88 L368.75,358.98 L367.80,359.08 L366.86,359.20 L365.92,359.34 L365.00,359.50" fill="none" stroke="#ff0000" stroke-width="2.1" stroke-linecap="round" stroke-linejoin="round"/>
<line x1="355.1" y1="265.7" x2="382.8" y2="265.7" stroke="#000000" stroke-width="2"/>
<line x1="355.1" y1="280.8" x2="382.8" y2="280.8" stroke="#ff0000" stroke-width="2"/>
<text transform="translate(388.80,270.00) scale(0.9090909090909091,1)" font-size="10.56" font-weight="bold" text-anchor="start"  stroke="#000" stroke-width="0.330">ZNR</text>
<text transform="translate(388.80,284.80) scale(0.9090909090909091,1)" font-size="10.56" font-weight="bold" text-anchor="start"  stroke="#000" stroke-width="0.330">ZN</text>
</svg>
</body></html>
